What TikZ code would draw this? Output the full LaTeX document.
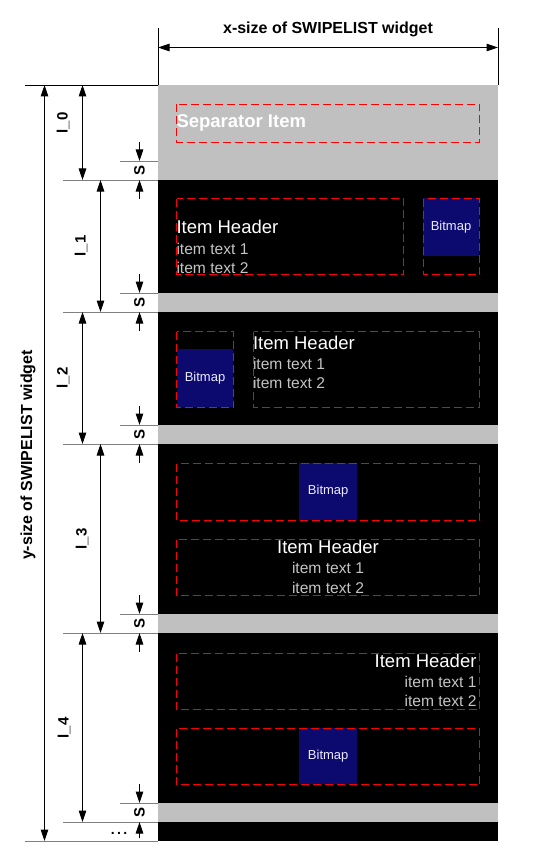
\documentclass[tikz,border=0pt]{standalone}
\usepackage{fontspec}
\setmainfont{Liberation Sans}
\usepackage{xcolor}
\usetikzlibrary{arrows.meta}
\definecolor{SepC}{HTML}{C0C0C0}
\definecolor{BmpC}{HTML}{0C0A6E}
\definecolor{GuideC}{HTML}{808080}
\definecolor{TxtC}{HTML}{C4C4C4}
\definecolor{FrameC}{HTML}{FF0000}

\begin{document}
\begin{tikzpicture}[x=1pt,y=-1pt,line width=1pt,
  tip/.style={-{Triangle[length=11.5pt,width=7.5pt]}},
  dimarrow/.style={{Triangle[length=11.5pt,width=7.5pt]}-{Triangle[length=11.5pt,width=7.5pt]}},
  guide/.style={draw=GuideC},
  frame/.style={draw=FrameC,line width=1.5pt,dash pattern=on 8pt off 4pt},
  dimlbl/.style={font=\fontsize{15}{16}\selectfont\bfseries,rotate=90,inner sep=0pt},
  hdr/.style={font=\fontsize{18.5}{20}\selectfont,text=white,inner sep=0pt},
  txt/.style={font=\fontsize{15.6}{17}\selectfont,text=TxtC,inner sep=0pt},
  bmp/.style={fill=BmpC,text=white!92!blue,font=\fontsize{13}{14}\selectfont,inner sep=0pt}]
\useasboundingbox (0,0) rectangle (557,853);

% ---------- widget area ----------
\fill[black] (158,180) rectangle (498,841);
\fill[SepC] (158,85) rectangle (498,180);

% ---------- x-size ----------
\coordinate (xl) at (158,47.5);
\coordinate (xr) at (498,47.5);
\draw (158,28) -- (158,85);
\draw (498,28) -- (498,85);
\draw[dimarrow] (xl) -- (xr);
\node[font=\fontsize{16}{17}\selectfont\bfseries,inner sep=0pt] (xsize) at (328,29) {x-size of SWIPELIST widget};

% ---------- y-size ----------
\coordinate (yt) at (44.5,85);
\coordinate (yb) at (44.5,841);
\draw (25,85.5) -- (158,85.5);
\draw[guide] (25,841.5) -- (158,841.5);
\draw[dimarrow] (yt) -- (yb);
\node[font=\fontsize{16}{17}\selectfont\bfseries,rotate=90,inner sep=0pt] (ysize) at (28,455) {y-size of SWIPELIST widget};

% ---------- items: top / separator / bottom / arrow x / label pos ----------
\foreach \ya/\ys/\yb/\ax/\lx/\ly/\i in {85/161/180/82.5/63/123/0,
    180/293/312/100.5/81/246/1, 312/425/444/82.5/63/378/2,
    444/614/633/100.5/82/539/3, 633/803/822/82.5/64/728/4}{
  \fill[SepC] (158,\ys) rectangle (498,\yb);
  \draw[guide] (63,\yb+0.5) -- (158,\yb+0.5);
  \draw[guide] (120,\ys+0.5) -- (158,\ys+0.5);
  \coordinate (la\i) at (\ax,\ya);
  \coordinate (lb\i) at (\ax,\yb);
  \draw[dimarrow] (la\i) -- (lb\i);
  \node[dimlbl] (l\i) at (\lx,\ly) {l\_\i};
  \coordinate (sa\i) at (139.5,{\ys-19});
  \coordinate (sb\i) at (139.5,\ys);
  \draw[tip] (sa\i) -- (sb\i);
  \coordinate (ua\i) at (139.5,{\ya+19});
  \coordinate (ub\i) at (139.5,\ya);
  \ifnum\i>0 \draw[tip] (ua\i) -- (ub\i);\fi
  \node[dimlbl] (s\i) at (139.5,{(\ys+\yb)/2}) {S};
}
\coordinate (ua5) at (139.5,838);
\coordinate (ub5) at (139.5,822);
\draw[tip] (ua5) -- (ub5);
\node[font=\fontsize{14}{15}\selectfont\bfseries,anchor=base,inner sep=0pt] (more) at (119,834) {.\,.\,.};

% ---------- item contents ----------
\node[font=\fontsize{18.5}{20}\selectfont\bfseries,text=white,anchor=west,inner sep=0pt] (sepitem) at (176,123) {Separator Item};
% item 1: text left, bitmap right
\node[bmp,minimum width=56pt,minimum height=58pt] (bmp1) at (451,227) {Bitmap};
\node[hdr,anchor=west] (h1) at (176,227) {Item Header};
\node[txt,anchor=west] (ta1) at (176,249) {item text 1};
\node[txt,anchor=west] (tb1) at (176,268) {item text 2};
% item 2: bitmap left, text right
\node[bmp,minimum width=56pt,minimum height=58pt] (bmp2) at (205,378) {Bitmap};
\node[hdr,anchor=west] (h2) at (252.5,343) {Item Header};
\node[txt,anchor=west] (ta2) at (252.5,364) {item text 1};
\node[txt,anchor=west] (tb2) at (252.5,383) {item text 2};
% item 3: bitmap above, text centred
\node[bmp,minimum width=57.5pt,minimum height=57pt] (bmp3) at (328.2,491.5) {Bitmap};
\node[hdr] (h3) at (328,547) {Item Header};
\node[txt] (ta3) at (328,568) {item text 1};
\node[txt] (tb3) at (328,588) {item text 2};
% item 4: text right, bitmap below
\node[bmp,minimum width=57.5pt,minimum height=56pt] (bmp4) at (328.2,756) {Bitmap};
\node[hdr,anchor=east] (h4) at (477,661) {Item Header};
\node[txt,anchor=east] (ta4) at (477,682) {item text 1};
\node[txt,anchor=east] (tb4) at (477,701) {item text 2};

% ---------- dashed item areas ----------
\foreach \xa/\yta/\xb/\ytb in {176.5/104.5/479.5/142.5,
    176.5/198.5/403.5/274.5, 423.5/198.5/479.5/274.5,
    176.5/331.5/233.5/407.5, 253.5/331.5/479.5/407.5,
    176.5/463.5/479.5/520.5, 176.5/539.5/479.5/595.5,
    176.5/653.5/479.5/709.5, 176.5/728.5/479.5/784.5}{
  \draw[frame] (\xa,\yta) rectangle (\xb,\ytb);
}
\end{tikzpicture}
\end{document}
